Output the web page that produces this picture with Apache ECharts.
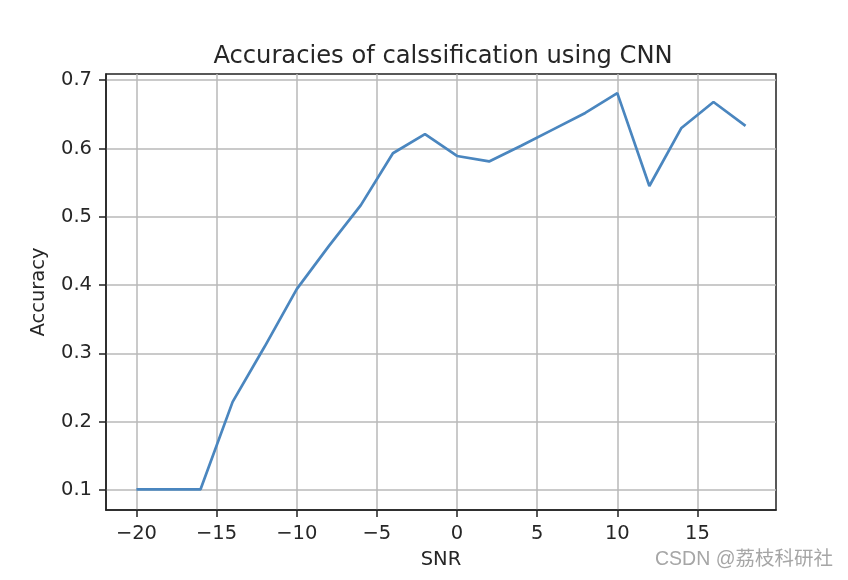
<!DOCTYPE html>
<html>
<head>
<meta charset="utf-8">
<script src="https://cdn.jsdelivr.net/npm/echarts@6/dist/echarts.min.js"></script>
<style>html,body{margin:0;padding:0;background:#fff;}#c{width:848px;height:580px;}</style>
</head>
<body>
<div id="c"></div>
<script>
const snr = [-20, -18, -16, -14, -12, -10, -8, -6, -4, -2, 0, 2, 4, 6, 8, 10, 12, 14, 16, 18];
const accuracy = [0.101, 0.101, 0.101, 0.229, 0.310, 0.394, 0.457, 0.517, 0.593, 0.621, 0.589, 0.581, 0.604, 0.628, 0.652, 0.681, 0.545, 0.630, 0.668, 0.633];
const xTicks = [-20, -15, -10, -5, 0, 5, 10, 15];
const yTicks = [0.1, 0.2, 0.3, 0.4, 0.5, 0.6, 0.7];
const titleText = 'Accuracies of calssification using CNN';
const xName = 'SNR';
const yName = 'Accuracy';
const watermark = 'CSDN @荔枝科研社';

const font = 'DejaVu Sans';
const textColor = '#262626';
const frameColor = '#222';
const chart = echarts.init(document.getElementById('c'), null, {renderer: 'canvas'});
chart.setOption({
  animation: false,
  backgroundColor: '#fff',
  title: {
    text: titleText,
    left: 438, top: 40, textAlign: 'center',
    textStyle: {fontFamily: font, fontSize: 24.2, fontWeight: 'normal', color: textColor}
  },
  grid: {left: 106, right: 72, top: 74, bottom: 70, show: true, borderColor: frameColor, borderWidth: 1.5, containLabel: false},
  xAxis: {
    type: 'value', min: -21.9, max: 19.9,
    name: xName, nameLocation: 'middle', nameGap: 40,
    nameTextStyle: {fontFamily: font, fontSize: 19.5, color: textColor},
    axisLine: {show: true, onZero: false, lineStyle: {color: frameColor, width: 1.5}},
    axisTick: {show: true, length: 7, inside: false, customValues: xTicks, lineStyle: {color: frameColor, width: 1.5}},
    axisLabel: {customValues: xTicks, margin: 14, fontFamily: font, fontSize: 19.5, color: textColor,
      formatter: v => (v < 0 ? '\u2212' + Math.abs(v) : String(v))},
    splitLine: {show: true, lineStyle: {color: '#b8b8b8', width: 1.5}}
  },
  yAxis: {
    type: 'value', min: 0.0707, max: 0.709,
    name: yName, nameLocation: 'middle', nameGap: 57, nameRotate: 90,
    nameTextStyle: {fontFamily: font, fontSize: 19.5, color: textColor},
    axisLine: {show: true, onZero: false, lineStyle: {color: frameColor, width: 1.5}},
    axisTick: {show: true, length: 7, inside: false, customValues: yTicks, lineStyle: {color: frameColor, width: 1.5}},
    axisLabel: {customValues: yTicks, margin: 14, fontFamily: font, fontSize: 19.5, color: textColor,
      formatter: v => v.toFixed(1)},
    splitLine: {show: true, lineStyle: {color: '#b8b8b8', width: 1.5}}
  },
  graphic: [{
    type: 'text', right: 15, top: 550,
    style: {text: watermark, fontFamily: '"Liberation Sans", "Noto Sans CJK SC"', fontSize: 19.5, fill: '#a6a6a6'}
  }],
  series: [{
    type: 'line',
    data: snr.map((s, i) => [s, accuracy[i]]),
    showSymbol: false, symbol: 'none',
    lineStyle: {color: '#4a86bf', width: 2.7},
    clip: false
  }]
});
</script>
</body>
</html>
